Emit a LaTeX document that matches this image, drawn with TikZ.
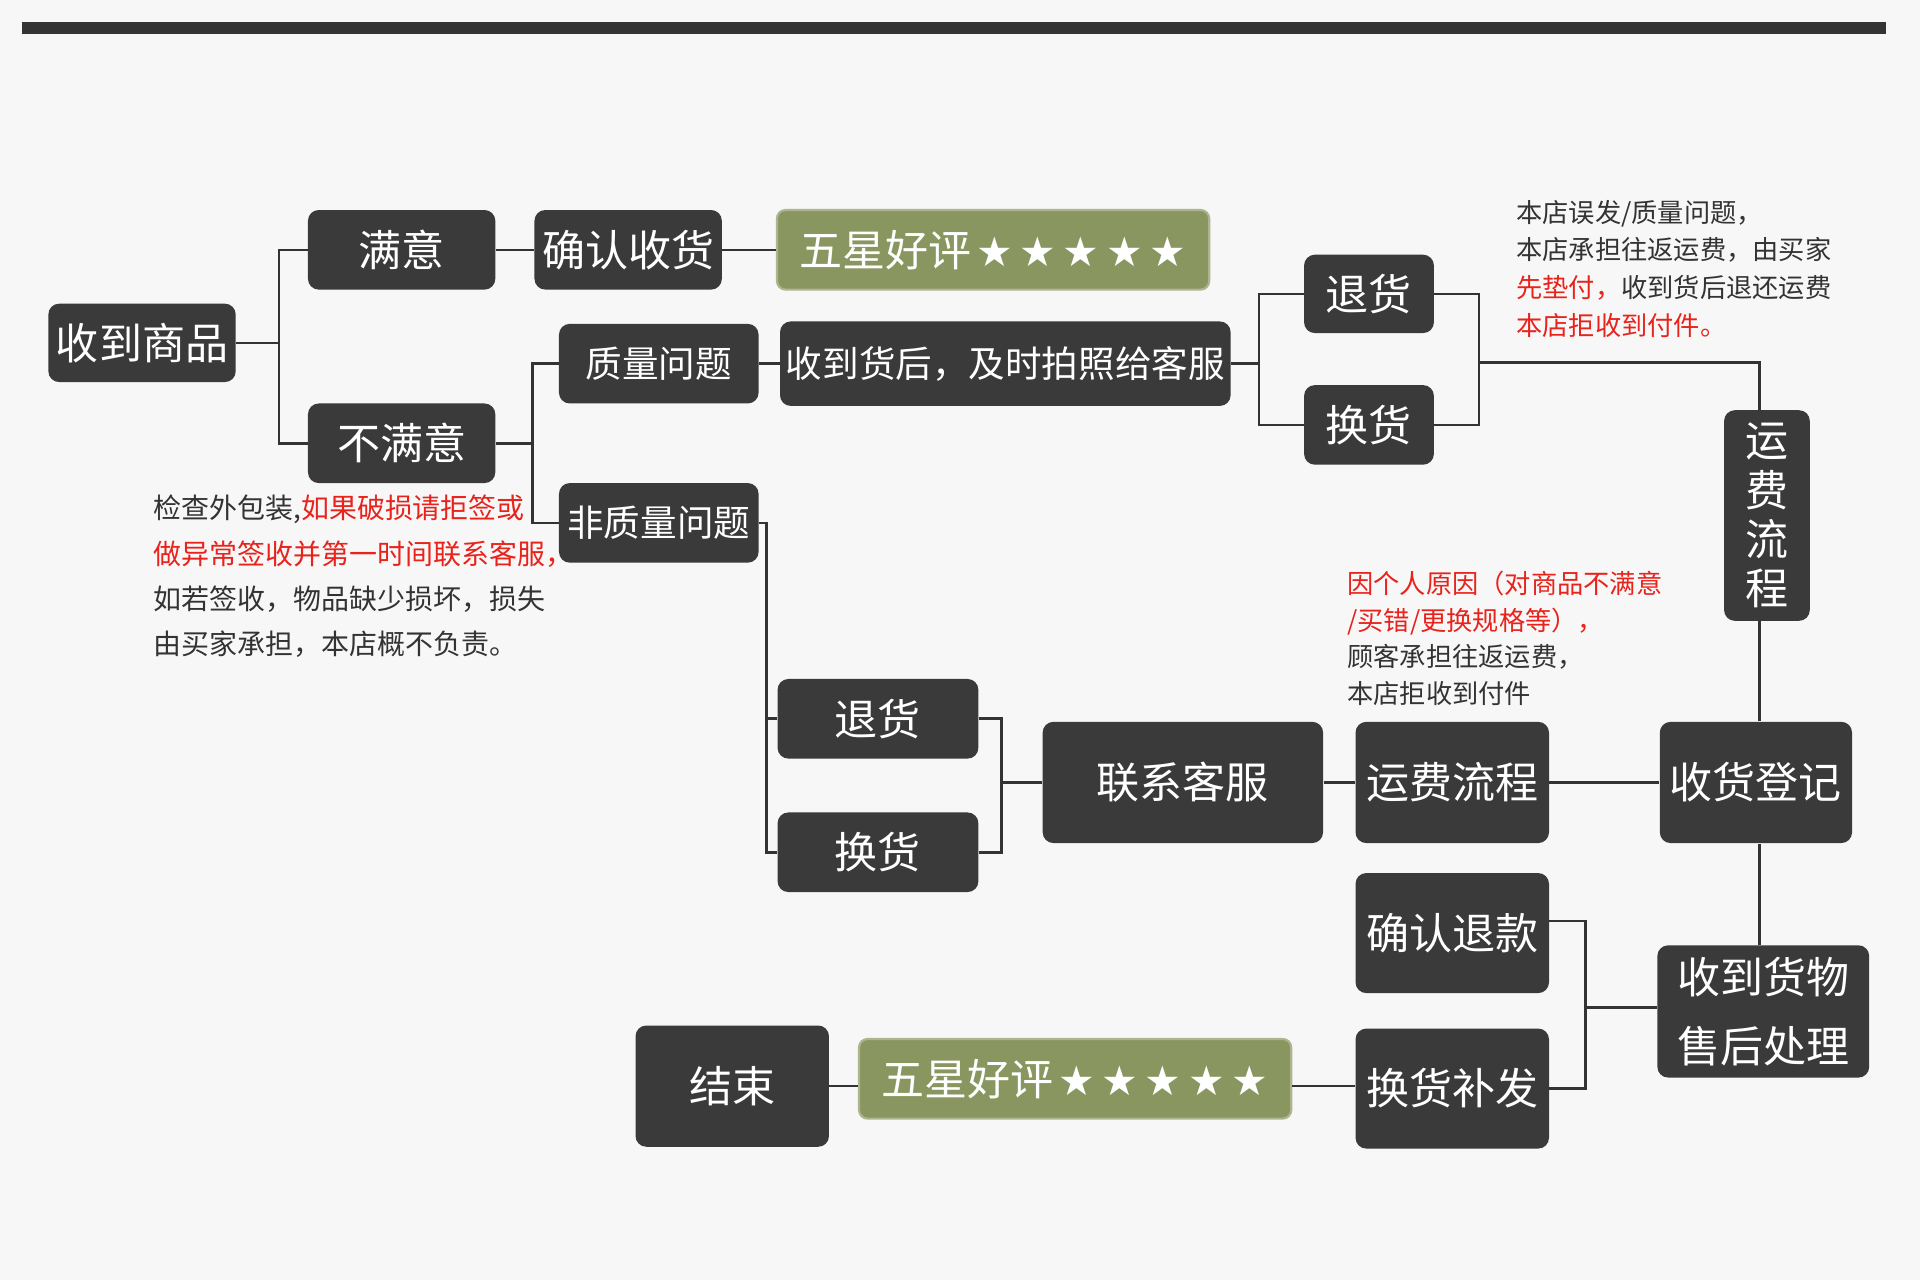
\documentclass[tikz,border=0pt]{standalone}
\usepackage{fontspec}
\setmainfont{Noto Sans CJK SC}
\newfontfamily\symf{DejaVu Sans}
\definecolor{bx}{HTML}{3A3A3A}
\definecolor{gr}{HTML}{8A9660}
\definecolor{rd}{HTML}{E8231C}
\definecolor{tx}{HTML}{333333}
\tikzset{
 box/.style={fill=bx,rounded corners=5pt,text=white,minimum width=#1,inner sep=0pt},
 big/.style={font=\fontsize{20}{24}\selectfont},
 mid/.style={font=\fontsize{17}{20}\selectfont},
 grn/.style={fill=gr,draw=gr!70!white,line width=1pt,rounded corners=4pt,text=white,minimum width=353*0.02cm,minimum height=65*0.02cm,font=\fontsize{20}{24}\selectfont},
 ln/.style={draw=tx,line width=1.2pt},
 note/.style={anchor=north west,align=left,text=tx,font=\fontsize{12.2}{17.5}\selectfont,inner sep=0pt}
}
\newcommand{\stars}{\hspace{2pt}{\symf\fontsize{19}{20}\selectfont ★\,★\,★\,★\,★}}
\begin{document}
\begin{tikzpicture}[x=0.02cm,y=-0.02cm]
\fill[white!97!black] (0,0) rectangle (1568,1045);
\fill[tx] (18,18) rectangle (1540,28);
\node[box=153*0.02cm,minimum height=64*0.02cm,big] (a) at (116,280) {收到商品};
\node[box=153*0.02cm,minimum height=65*0.02cm,big] (m) at (328,204) {满意};
\node[box=153*0.02cm,minimum height=65*0.02cm,big] (q) at (513,204) {确认收货};
\node[grn] (s1) at (811,204) {五星好评\stars};
\node[box=153*0.02cm,minimum height=65*0.02cm,big] (n) at (328,362) {不满意};
\node[box=163*0.02cm,minimum height=65*0.02cm,mid] (z) at (538,297) {质量问题};
\node[box=368*0.02cm,minimum height=69*0.02cm,mid] (p) at (821,297) {收到货后，及时拍照给客服};
\node[box=163*0.02cm,minimum height=65*0.02cm,mid] (f) at (538,427) {非质量问题};
\node[box=106*0.02cm,minimum height=64*0.02cm,big] (t1) at (1118,240) {退货};
\node[box=106*0.02cm,minimum height=65*0.02cm,big] (h1) at (1118,347) {换货};
\node[box=70*0.02cm,minimum height=172*0.02cm,big,align=center,font=\fontsize{20}{23}\selectfont] (y1) at (1443,421) {运\\费\\流\\程};
\node[box=164*0.02cm,minimum height=65*0.02cm,big] (t2) at (717,587) {退货};
\node[box=164*0.02cm,minimum height=65*0.02cm,big] (h2) at (717,696) {换货};
\node[box=229*0.02cm,minimum height=99*0.02cm,big] (k) at (966,639) {联系客服};
\node[box=158*0.02cm,minimum height=99*0.02cm,big] (y2) at (1186,639) {运费流程};
\node[box=157*0.02cm,minimum height=99*0.02cm,big] (d) at (1434,639) {收货登记};
\node[box=158*0.02cm,minimum height=98*0.02cm,big] (r) at (1186,762) {确认退款};
\node[box=173*0.02cm,minimum height=108*0.02cm,big,align=center,font=\fontsize{20}{32}\selectfont] (w) at (1440,826) {收到货物\\售后处理};
\node[box=158*0.02cm,minimum height=98*0.02cm,big] (b) at (1186,889) {换货补发};
\node[grn] (s2) at (878,881) {五星好评\stars};
\node[box=158*0.02cm,minimum height=99*0.02cm,big] (e) at (598,887) {结束};
% connectors
\draw[ln] (a.east) -- (228,280) (m.west) -- (228,204) -- (228,362) -- (n.west);
\draw[ln] (m) -- (q); \draw[ln] (q) -- (s1);
\draw[ln] (n.east) -- (435,362) (z.west) -- (435,297) -- (435,427) -- (f.west);
\draw[ln] (z) -- (p);
\draw[ln] (p.east) -- (1028,297) (t1.west) -- (1028,240) -- (1028,347) -- (h1.west);
\draw[ln] (t1.east) -- (1208,240) -- (1208,347) -- (h1.east);
\draw[ln] (1208,296) -- (1437,296) -- (y1.north-|1437,0);
\draw[ln] (y1.south-|1437,0) -- (d.north-|1437,0);
\draw[ln] (f.east) -- (626,427) -- (626,696) -- (h2.west) (t2.west) -- (626,587);
\draw[ln] (t2.east) -- (818,587) -- (818,696) -- (h2.east) (818,639) -- (k.west);
\draw[ln] (k) -- (y2); \draw[ln] (y2) -- (d);
\draw[ln] (d.south-|1437,0) -- (w.north-|1437,0);
\draw[ln] (w.west|-0,823) -- (1295,823) (r.east|-0,752) -- (1295,752) -- (1295,889) -- (b.east);
\draw[ln] (b.west|-0,887) -- (s2.east|-0,887); \draw[ln] (s2.west|-0,887) -- (e.east|-0,887);
% notes
\node[note,font=\fontsize{13}{19}\selectfont] (n1) at (125,404) {检查外包装,\textcolor{rd}{如果破损请拒签或}\\[2pt]\textcolor{rd}{做异常签收并第一时间联系客服，}\\[2pt]如若签收，物品缺少损坏，损失\\[2pt]由买家承担，本店概不负责。};
\node[note] (n2) at (1238,163) {本店误发/质量问题，\\本店承担往返运费，由买家\\\textcolor{rd}{先垫付，}收到货后退还运费\\\textcolor{rd}{本店拒收到付件。}};
\node[note,font=\fontsize{12.2}{17}\selectfont] (n3) at (1100,466) {\textcolor{rd}{因个人原因（对商品不满意}\\\textcolor{rd}{/买错/更换规格等），}\\顾客承担往返运费，\\本店拒收到付件};
\end{tikzpicture}
\end{document}
